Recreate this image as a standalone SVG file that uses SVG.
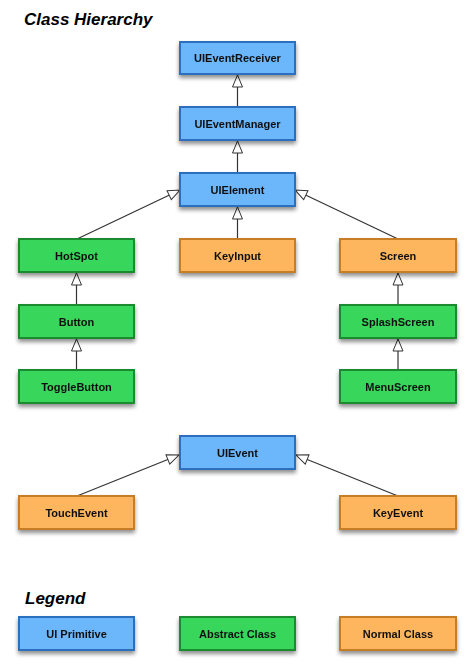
<svg xmlns="http://www.w3.org/2000/svg" width="474" height="672" viewBox="0 0 474 672">
<defs>
<filter id="sh" x="-10%" y="-20%" width="120%" height="160%">
<feGaussianBlur in="SourceAlpha" stdDeviation="2"/>
<feOffset dx="0" dy="3" result="b"/>
<feComponentTransfer><feFuncA type="linear" slope="0.45"/></feComponentTransfer>
<feMerge><feMergeNode/><feMergeNode in="SourceGraphic"/></feMerge>
</filter>
<marker id="tri" viewBox="0 0 14 12" refX="13" refY="6" markerWidth="14" markerHeight="12" markerUnits="userSpaceOnUse" orient="auto">
<path d="M1,1 L13,6 L1,11 Z" fill="#fff" stroke="#333" stroke-width="1"/>
</marker>
<style>
.b{fill:#6cb6fb;stroke:#2c6fbf;stroke-width:2}
.g{fill:#37d65a;stroke:#1e8a2f;stroke-width:2}
.o{fill:#fdb65d;stroke:#c77b25;stroke-width:2}
.t{font-family:"Liberation Sans",Arial,sans-serif;font-weight:bold;font-size:11px;fill:#111;text-anchor:middle}
.h{font-family:"Liberation Sans",Arial,sans-serif;font-weight:bold;font-style:italic;font-size:17px;fill:#000}
.c{stroke:#333;stroke-width:1.2;fill:none;marker-end:url(#tri)}
</style>
</defs>
<rect width="474" height="672" fill="#fff"/>
<text class="h" x="24" y="25">Class Hierarchy</text>
<text class="h" x="25" y="604">Legend</text>
<g id="connectors">
<line class="c" x1="237.5" y1="107" x2="237.5" y2="75"/>
<line class="c" x1="237.5" y1="173" x2="237.5" y2="141"/>
<line class="c" x1="237.5" y1="239" x2="237.5" y2="207"/>
<line class="c" x1="77" y1="239" x2="180" y2="190"/>
<line class="c" x1="398" y1="239" x2="295" y2="190"/>
<line class="c" x1="76.5" y1="305" x2="76.5" y2="273"/>
<line class="c" x1="76.5" y1="370" x2="76.5" y2="339"/>
<line class="c" x1="398" y1="305" x2="398" y2="273"/>
<line class="c" x1="398" y1="370" x2="398" y2="339"/>
<line class="c" x1="77" y1="496" x2="179" y2="455"/>
<line class="c" x1="398" y1="496" x2="296" y2="455"/>
</g>
<g id="UIEventReceiver" filter="url(#sh)"><rect class="b" x="180" y="42" width="115" height="32"/><text class="t" x="237.5" y="62">UIEventReceiver</text></g>
<g id="UIEventManager" filter="url(#sh)"><rect class="b" x="180" y="107" width="115" height="33"/><text class="t" x="237.5" y="127.5">UIEventManager</text></g>
<g id="UIElement" filter="url(#sh)"><rect class="b" x="180" y="173" width="115" height="33"/><text class="t" x="237.5" y="193.5">UIElement</text></g>
<g id="HotSpot" filter="url(#sh)"><rect class="g" x="19" y="239" width="115" height="33"/><text class="t" x="76.5" y="259.5">HotSpot</text></g>
<g id="KeyInput" filter="url(#sh)"><rect class="o" x="180" y="239" width="115" height="33"/><text class="t" x="237.5" y="259.5">KeyInput</text></g>
<g id="Screen" filter="url(#sh)"><rect class="o" x="340" y="239" width="116" height="33"/><text class="t" x="398" y="259.5">Screen</text></g>
<g id="Button" filter="url(#sh)"><rect class="g" x="19" y="305" width="115" height="33"/><text class="t" x="76.5" y="325.5">Button</text></g>
<g id="SplashScreen" filter="url(#sh)"><rect class="g" x="340" y="305" width="116" height="33"/><text class="t" x="398" y="325.5">SplashScreen</text></g>
<g id="ToggleButton" filter="url(#sh)"><rect class="g" x="19" y="370" width="115" height="33"/><text class="t" x="76.5" y="390.5">ToggleButton</text></g>
<g id="MenuScreen" filter="url(#sh)"><rect class="g" x="340" y="370" width="116" height="33"/><text class="t" x="398" y="390.5">MenuScreen</text></g>
<g id="UIEvent" filter="url(#sh)"><rect class="b" x="180" y="436" width="115" height="33"/><text class="t" x="237.5" y="456.5">UIEvent</text></g>
<g id="TouchEvent" filter="url(#sh)"><rect class="o" x="19" y="496" width="115" height="33"/><text class="t" x="76.5" y="516.5">TouchEvent</text></g>
<g id="KeyEvent" filter="url(#sh)"><rect class="o" x="340" y="496" width="116" height="33"/><text class="t" x="398" y="516.5">KeyEvent</text></g>
<g id="LegendPrimitive" filter="url(#sh)"><rect class="b" x="19" y="617" width="115" height="33"/><text class="t" x="76.5" y="637.5">UI Primitive</text></g>
<g id="LegendAbstract" filter="url(#sh)"><rect class="g" x="180" y="617" width="115" height="33"/><text class="t" x="237.5" y="637.5">Abstract Class</text></g>
<g id="LegendNormal" filter="url(#sh)"><rect class="o" x="340" y="617" width="116" height="33"/><text class="t" x="398" y="637.5">Normal Class</text></g>
</svg>
